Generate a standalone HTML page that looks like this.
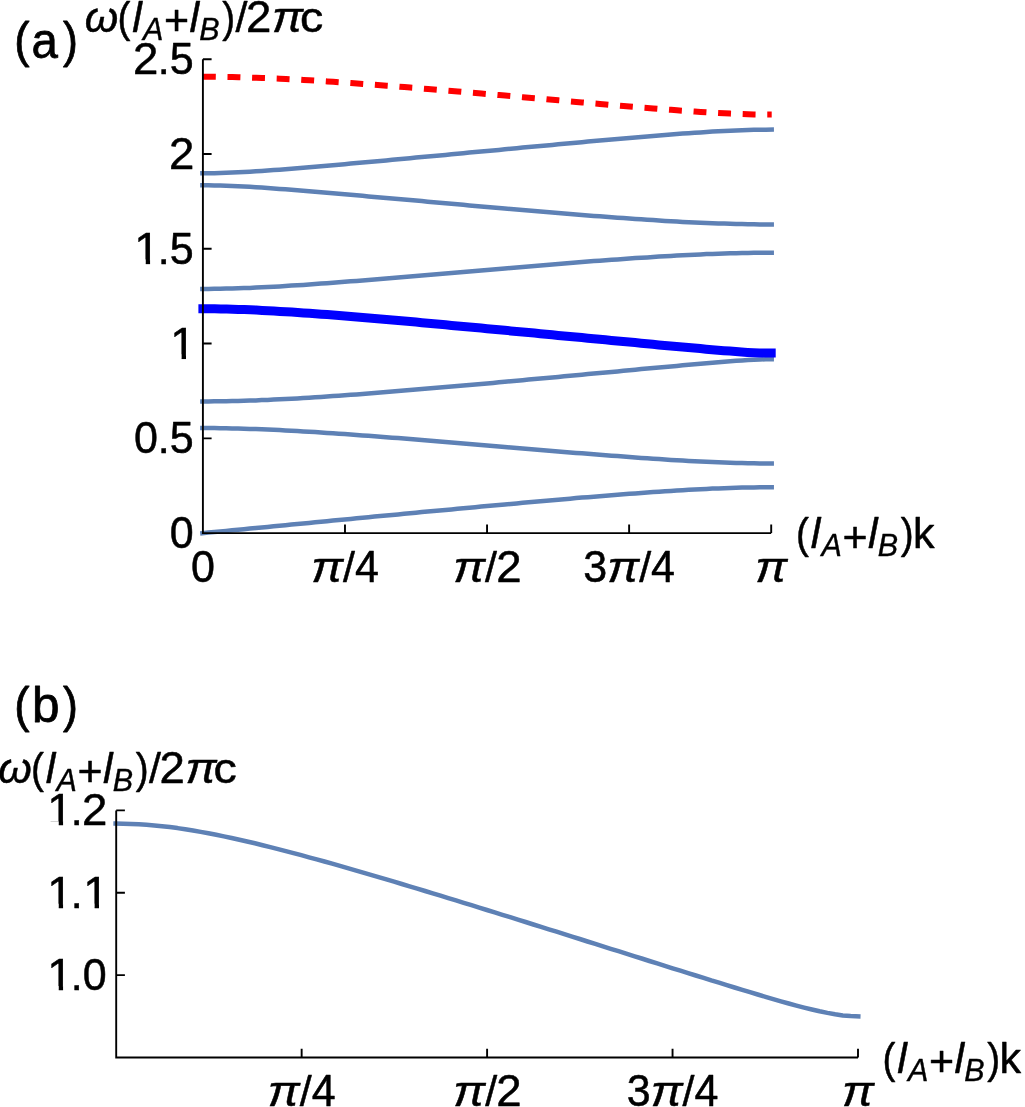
<!DOCTYPE html>
<html lang="en"><head><meta charset="utf-8"><title>Band structure</title>
<style>
html,body{margin:0;padding:0;background:#fff;}
body{width:1025px;height:1107px;overflow:hidden;}
svg{display:block;}
text{font-family:"Liberation Sans",sans-serif;font-size:43px;fill:#000;stroke:#000;stroke-width:0.5px;stroke-linejoin:round;}
.p{font-size:51px;stroke-width:0.8px;}
.i{font-style:italic;}
.s{font-size:30.5px;stroke-width:0.4px;}
.ax{stroke:#000;stroke-width:1.9;fill:none;}
.c{fill:none;stroke:#5e81b5;stroke-width:4.5;stroke-linecap:square;stroke-linejoin:round;}
</style></head><body>
<svg width="1025" height="1107" viewBox="0 0 1025 1107">
<defs><clipPath id="c1"><path d="M-2,-40H14.8V1H10.7V-4H-2Z"/></clipPath></defs>
<rect width="1025" height="1107" fill="#fff"/>
<g id="plot-a">
<polyline class="c" points="202.4,533.2 208.3,532.6 214.3,532.1 220.2,531.5 226.1,530.9 232.1,530.3 238.0,529.8 243.9,529.2 249.8,528.6 255.8,528.0 261.7,527.5 267.6,526.9 273.6,526.3 279.5,525.8 285.4,525.2 291.4,524.6 297.3,524.0 303.2,523.5 309.1,522.9 315.1,522.3 321.0,521.8 326.9,521.2 332.9,520.6 338.8,520.0 344.7,519.5 350.7,518.9 356.6,518.3 362.5,517.8 368.4,517.2 374.4,516.6 380.3,516.1 386.2,515.5 392.2,514.9 398.1,514.4 404.0,513.8 410.0,513.3 415.9,512.7 421.8,512.1 427.7,511.6 433.7,511.0 439.6,510.5 445.5,509.9 451.5,509.4 457.4,508.8 463.3,508.3 469.3,507.7 475.2,507.2 481.1,506.6 487.1,506.1 493.0,505.5 498.9,505.0 504.8,504.4 510.8,503.9 516.7,503.4 522.6,502.8 528.6,502.3 534.5,501.8 540.4,501.2 546.4,500.7 552.3,500.2 558.2,499.7 564.1,499.2 570.1,498.7 576.0,498.1 581.9,497.6 587.9,497.2 593.8,496.7 599.7,496.2 605.7,495.7 611.6,495.2 617.5,494.7 623.4,494.3 629.4,493.8 635.3,493.4 641.2,492.9 647.2,492.5 653.1,492.1 659.0,491.7 665.0,491.3 670.9,490.9 676.8,490.5 682.7,490.2 688.7,489.8 694.6,489.5 700.5,489.2 706.5,488.9 712.4,488.6 718.3,488.4 724.3,488.2 730.2,487.9 736.1,487.8 742.0,487.6 748.0,487.5 753.9,487.4 759.8,487.3 765.8,487.3 771.7,487.3"/>
<polyline class="c" points="202.4,428.1 208.3,428.1 214.3,428.1 220.2,428.2 226.1,428.3 232.1,428.4 238.0,428.6 243.9,428.7 249.8,428.9 255.8,429.1 261.7,429.3 267.6,429.6 273.6,429.8 279.5,430.1 285.4,430.4 291.4,430.7 297.3,431.0 303.2,431.4 309.1,431.7 315.1,432.1 321.0,432.5 326.9,432.9 332.9,433.3 338.8,433.7 344.7,434.1 350.7,434.5 356.6,434.9 362.5,435.4 368.4,435.8 374.4,436.3 380.3,436.7 386.2,437.2 392.2,437.7 398.1,438.1 404.0,438.6 410.0,439.1 415.9,439.5 421.8,440.0 427.7,440.5 433.7,441.0 439.6,441.5 445.5,442.0 451.5,442.5 457.4,443.0 463.3,443.5 469.3,444.0 475.2,444.5 481.1,445.0 487.1,445.5 493.0,446.0 498.9,446.5 504.8,447.0 510.8,447.5 516.7,448.0 522.6,448.5 528.6,448.9 534.5,449.4 540.4,449.9 546.4,450.4 552.3,450.9 558.2,451.4 564.1,451.9 570.1,452.4 576.0,452.9 581.9,453.3 587.9,453.8 593.8,454.3 599.7,454.8 605.7,455.2 611.6,455.7 617.5,456.1 623.4,456.6 629.4,457.0 635.3,457.4 641.2,457.9 647.2,458.3 653.1,458.7 659.0,459.1 665.0,459.5 670.9,459.9 676.8,460.2 682.7,460.6 688.7,460.9 694.6,461.2 700.5,461.5 706.5,461.8 712.4,462.1 718.3,462.3 724.3,462.5 730.2,462.7 736.1,462.9 742.0,463.1 748.0,463.2 753.9,463.3 759.8,463.4 765.8,463.4 771.7,463.4"/>
<polyline class="c" points="202.4,401.4 208.3,401.4 214.3,401.3 220.2,401.3 226.1,401.2 232.1,401.1 238.0,400.9 243.9,400.8 249.8,400.6 255.8,400.4 261.7,400.1 267.6,399.9 273.6,399.6 279.5,399.3 285.4,399.0 291.4,398.7 297.3,398.4 303.2,398.0 309.1,397.7 315.1,397.3 321.0,396.9 326.9,396.5 332.9,396.1 338.8,395.7 344.7,395.3 350.7,394.8 356.6,394.4 362.5,393.9 368.4,393.5 374.4,393.0 380.3,392.6 386.2,392.1 392.2,391.6 398.1,391.1 404.0,390.6 410.0,390.1 415.9,389.6 421.8,389.1 427.7,388.6 433.7,388.1 439.6,387.6 445.5,387.1 451.5,386.6 457.4,386.0 463.3,385.5 469.3,385.0 475.2,384.5 481.1,383.9 487.1,383.4 493.0,382.9 498.9,382.3 504.8,381.8 510.8,381.2 516.7,380.7 522.6,380.2 528.6,379.6 534.5,379.1 540.4,378.5 546.4,378.0 552.3,377.4 558.2,376.9 564.1,376.3 570.1,375.8 576.0,375.2 581.9,374.7 587.9,374.1 593.8,373.6 599.7,373.0 605.7,372.5 611.6,371.9 617.5,371.4 623.4,370.8 629.4,370.2 635.3,369.7 641.2,369.1 647.2,368.6 653.1,368.0 659.0,367.5 665.0,367.0 670.9,366.4 676.8,365.9 682.7,365.3 688.7,364.8 694.6,364.3 700.5,363.7 706.5,363.2 712.4,362.7 718.3,362.2 724.3,361.7 730.2,361.3 736.1,360.8 742.0,360.4 748.0,360.0 753.9,359.7 759.8,359.5 765.8,359.3 771.7,359.3"/>
<polyline class="c" points="202.4,288.9 208.3,288.9 214.3,288.8 220.2,288.7 226.1,288.6 232.1,288.5 238.0,288.3 243.9,288.1 249.8,287.9 255.8,287.6 261.7,287.3 267.6,287.0 273.6,286.7 279.5,286.4 285.4,286.0 291.4,285.6 297.3,285.3 303.2,284.9 309.1,284.4 315.1,284.0 321.0,283.6 326.9,283.2 332.9,282.7 338.8,282.3 344.7,281.8 350.7,281.3 356.6,280.9 362.5,280.4 368.4,279.9 374.4,279.4 380.3,278.9 386.2,278.4 392.2,278.0 398.1,277.5 404.0,277.0 410.0,276.5 415.9,276.0 421.8,275.5 427.7,275.0 433.7,274.4 439.6,273.9 445.5,273.4 451.5,272.9 457.4,272.4 463.3,271.9 469.3,271.4 475.2,270.9 481.1,270.4 487.1,269.9 493.0,269.4 498.9,268.9 504.8,268.4 510.8,267.9 516.7,267.4 522.6,266.9 528.6,266.4 534.5,265.9 540.4,265.4 546.4,264.9 552.3,264.4 558.2,264.0 564.1,263.5 570.1,263.0 576.0,262.5 581.9,262.1 587.9,261.6 593.8,261.1 599.7,260.7 605.7,260.3 611.6,259.8 617.5,259.4 623.4,259.0 629.4,258.5 635.3,258.1 641.2,257.7 647.2,257.4 653.1,257.0 659.0,256.6 665.0,256.2 670.9,255.9 676.8,255.6 682.7,255.3 688.7,255.0 694.6,254.7 700.5,254.4 706.5,254.1 712.4,253.9 718.3,253.7 724.3,253.5 730.2,253.3 736.1,253.2 742.0,253.0 748.0,252.9 753.9,252.8 759.8,252.8 765.8,252.7 771.7,252.7"/>
<polyline class="c" points="202.4,185.3 208.3,185.3 214.3,185.4 220.2,185.5 226.1,185.7 232.1,185.9 238.0,186.2 243.9,186.5 249.8,186.8 255.8,187.2 261.7,187.6 267.6,188.0 273.6,188.4 279.5,188.9 285.4,189.3 291.4,189.8 297.3,190.2 303.2,190.7 309.1,191.2 315.1,191.7 321.0,192.2 326.9,192.7 332.9,193.2 338.8,193.7 344.7,194.3 350.7,194.8 356.6,195.3 362.5,195.8 368.4,196.4 374.4,196.9 380.3,197.4 386.2,197.9 392.2,198.5 398.1,199.0 404.0,199.5 410.0,200.1 415.9,200.6 421.8,201.1 427.7,201.7 433.7,202.2 439.6,202.7 445.5,203.3 451.5,203.8 457.4,204.3 463.3,204.8 469.3,205.4 475.2,205.9 481.1,206.4 487.1,206.9 493.0,207.5 498.9,208.0 504.8,208.5 510.8,209.0 516.7,209.5 522.6,210.0 528.6,210.5 534.5,211.0 540.4,211.5 546.4,212.0 552.3,212.5 558.2,213.0 564.1,213.5 570.1,214.0 576.0,214.5 581.9,215.0 587.9,215.4 593.8,215.9 599.7,216.3 605.7,216.8 611.6,217.2 617.5,217.7 623.4,218.1 629.4,218.5 635.3,218.9 641.2,219.3 647.2,219.7 653.1,220.1 659.0,220.5 665.0,220.9 670.9,221.2 676.8,221.5 682.7,221.9 688.7,222.2 694.6,222.5 700.5,222.7 706.5,223.0 712.4,223.2 718.3,223.4 724.3,223.6 730.2,223.8 736.1,224.0 742.0,224.1 748.0,224.2 753.9,224.3 759.8,224.4 765.8,224.4 771.7,224.4"/>
<polyline class="c" points="202.4,173.3 208.3,173.2 214.3,173.2 220.2,173.0 226.1,172.8 232.1,172.6 238.0,172.3 243.9,172.0 249.8,171.7 255.8,171.3 261.7,170.9 267.6,170.5 273.6,170.1 279.5,169.7 285.4,169.2 291.4,168.7 297.3,168.2 303.2,167.8 309.1,167.3 315.1,166.8 321.0,166.2 326.9,165.7 332.9,165.2 338.8,164.7 344.7,164.2 350.7,163.6 356.6,163.1 362.5,162.5 368.4,162.0 374.4,161.5 380.3,160.9 386.2,160.4 392.2,159.8 398.1,159.3 404.0,158.7 410.0,158.2 415.9,157.6 421.8,157.1 427.7,156.5 433.7,156.0 439.6,155.4 445.5,154.9 451.5,154.3 457.4,153.7 463.3,153.2 469.3,152.6 475.2,152.1 481.1,151.5 487.1,151.0 493.0,150.4 498.9,149.9 504.8,149.3 510.8,148.7 516.7,148.2 522.6,147.6 528.6,147.1 534.5,146.5 540.4,146.0 546.4,145.4 552.3,144.9 558.2,144.3 564.1,143.8 570.1,143.3 576.0,142.7 581.9,142.2 587.9,141.6 593.8,141.1 599.7,140.6 605.7,140.0 611.6,139.5 617.5,139.0 623.4,138.5 629.4,138.0 635.3,137.5 641.2,137.0 647.2,136.5 653.1,136.0 659.0,135.5 665.0,135.0 670.9,134.5 676.8,134.1 682.7,133.6 688.7,133.2 694.6,132.8 700.5,132.4 706.5,132.0 712.4,131.6 718.3,131.3 724.3,131.0 730.2,130.7 736.1,130.4 742.0,130.2 748.0,130.0 753.9,129.8 759.8,129.7 765.8,129.7 771.7,129.6"/>
<polyline points="202.9,76.8 208.8,76.8 214.8,76.8 220.7,76.9 226.6,77.0 232.5,77.1 238.5,77.2 244.4,77.4 250.3,77.6 256.2,77.8 262.1,78.0 268.1,78.2 274.0,78.5 279.9,78.7 285.9,79.0 291.8,79.3 297.7,79.6 303.6,80.0 309.6,80.3 315.5,80.7 321.4,81.0 327.3,81.4 333.2,81.8 339.2,82.2 345.1,82.6 351.0,83.0 357.0,83.5 362.9,83.9 368.8,84.3 374.7,84.8 380.6,85.2 386.6,85.7 392.5,86.1 398.4,86.6 404.4,87.1 410.3,87.6 416.2,88.0 422.1,88.5 428.1,89.0 434.0,89.5 439.9,90.0 445.8,90.5 451.8,91.0 457.7,91.5 463.6,92.0 469.5,92.5 475.5,93.0 481.4,93.6 487.3,94.1 493.2,94.6 499.2,95.1 505.1,95.6 511.0,96.1 516.9,96.7 522.9,97.2 528.8,97.7 534.7,98.2 540.6,98.7 546.6,99.3 552.5,99.8 558.4,100.3 564.3,100.8 570.2,101.4 576.2,101.9 582.1,102.4 588.0,102.9 593.9,103.4 599.9,103.9 605.8,104.4 611.7,105.0 617.6,105.5 623.6,106.0 629.5,106.5 635.4,107.0 641.4,107.5 647.3,107.9 653.2,108.4 659.1,108.9 665.0,109.4 671.0,109.8 676.9,110.3 682.8,110.7 688.8,111.1 694.7,111.5 700.6,111.9 706.5,112.3 712.5,112.7 718.4,113.0 724.3,113.3 730.2,113.6 736.1,113.9 742.1,114.1 748.0,114.3 753.9,114.4 759.9,114.5 765.8,114.6 771.7,114.6" fill="none" stroke="#f00" stroke-width="6" stroke-dasharray="12.9 11.7"/>
<polyline points="202.9,308.8 208.8,308.8 214.7,308.8 220.7,308.9 226.6,309.0 232.5,309.2 238.4,309.4 244.3,309.6 250.3,309.8 256.2,310.1 262.1,310.4 268.0,310.7 273.9,311.0 279.9,311.4 285.8,311.7 291.7,312.1 297.6,312.5 303.5,312.9 309.5,313.3 315.4,313.7 321.3,314.2 327.2,314.6 333.1,315.1 339.1,315.6 345.0,316.0 350.9,316.5 356.8,317.0 362.7,317.5 368.7,318.0 374.6,318.5 380.5,319.0 386.4,319.5 392.3,320.0 398.3,320.6 404.2,321.1 410.1,321.6 416.0,322.1 421.9,322.7 427.9,323.2 433.8,323.8 439.7,324.3 445.6,324.8 451.5,325.4 457.5,325.9 463.4,326.5 469.3,327.0 475.2,327.6 481.1,328.1 487.1,328.7 493.0,329.2 498.9,329.8 504.8,330.3 510.7,330.9 516.6,331.4 522.6,332.0 528.5,332.6 534.4,333.1 540.3,333.7 546.2,334.2 552.2,334.8 558.1,335.4 564.0,335.9 569.9,336.5 575.8,337.0 581.8,337.6 587.7,338.2 593.6,338.7 599.5,339.3 605.4,339.8 611.4,340.4 617.3,341.0 623.2,341.5 629.1,342.1 635.0,342.6 641.0,343.2 646.9,343.8 652.8,344.3 658.7,344.9 664.6,345.4 670.6,346.0 676.5,346.5 682.4,347.0 688.3,347.6 694.2,348.1 700.2,348.6 706.1,349.2 712.0,349.7 717.9,350.2 723.8,350.7 729.8,351.1 735.7,351.6 741.6,352.0 747.5,352.4 753.4,352.7 759.4,352.9 765.3,353.1 771.2,353.1" fill="none" stroke="#00f" stroke-width="9" stroke-linecap="square" stroke-linejoin="round"/>
<path class="ax" d="M202.9,59.23V533.1H771.2M202.9,438.33h8.7M202.9,343.55h8.7M202.9,248.77h8.7M202.9,154.00h8.7M202.9,59.23h8.7M344.98,533.1v-8.7M487.05,533.1v-8.7M629.12,533.1v-8.7M771.20,533.1v-8.7"/>
<g><text transform="translate(169.79 548.10) scale(1.0001 1.04)">0</text></g>
<g><text transform="translate(133.92 453.33) scale(1.0001 1.04)">0</text><text x="157.84" y="453.33">.</text><text transform="translate(169.79 453.33) scale(1.0001 1.04)">5</text></g>
<g><text transform="translate(170.19 358.55) scale(1.07 1.04)" clip-path="url(#c1)">1</text></g>
<g><text transform="translate(134.32 263.77) scale(1.07 1.04)" clip-path="url(#c1)">1</text><text x="157.84" y="263.77">.</text><text transform="translate(169.79 263.77) scale(1.0001 1.04)">5</text></g>
<g><text transform="translate(168.89 169.00) scale(1.06011 1.04)">2</text></g>
<g><text transform="translate(133.02 74.23) scale(1.06011 1.04)">2</text><text x="157.84" y="74.23">.</text><text transform="translate(169.79 74.23) scale(1.0001 1.04)">5</text></g>
<g><text transform="translate(190.94 581.70) scale(1.0001 1.04)">0</text></g>
<g><text class="i" transform="translate(311.14 581.70) scale(1.1124 1)" stroke-width="0.6">π</text><text x="343.04" y="581.70">/</text><text transform="translate(354.99 581.70) scale(1.0001 1.04)">4</text></g>
<g><text class="i" transform="translate(453.22 581.70) scale(1.1124 1)" stroke-width="0.6">π</text><text x="485.12" y="581.70">/</text><text transform="translate(496.17 581.70) scale(1.06011 1.04)">2</text></g>
<g><text transform="translate(583.24 581.70) scale(1.0001 1.04)">3</text><text class="i" transform="translate(607.25 581.70) scale(1.1124 1)" stroke-width="0.6">π</text><text x="639.15" y="581.70">/</text><text transform="translate(651.10 581.70) scale(1.0001 1.04)">4</text></g>
<g><text class="i" transform="translate(755.30 581.70) scale(1.1124 1)" stroke-width="0.6">π</text></g>
<g><text class="i" x="84.79" y="31.60">ω</text><text transform="translate(117.40 31.60) scale(0.9 1)">(</text><text class="i" x="132.21" y="31.60">l</text><text class="i s" transform="translate(143.00 39.50) scale(1.0001 1.04)">A</text><text x="164.00" y="34.70">+</text><text class="i" x="189.61" y="31.60">l</text><text class="i s" transform="translate(199.16 39.50) scale(1.0001 1.04)">B</text><text transform="translate(222.17 31.60) scale(0.9 1)">)</text><text x="235.50" y="31.60">/</text><text transform="translate(246.01 31.60) scale(1.06011 1.04)">2</text><text class="i" transform="translate(272.04 31.60) scale(1.08 1)" stroke-width="0.6">π</text><text transform="translate(299.93 31.60) scale(1.08 1)">c</text></g>
<g><text transform="translate(795.90 548.40) scale(0.9 1)">(</text><text class="i" x="810.71" y="548.40">l</text><text class="i s" transform="translate(821.50 556.30) scale(1.0001 1.04)">A</text><text x="842.50" y="551.50">+</text><text class="i" x="868.11" y="548.40">l</text><text class="i s" transform="translate(877.66 556.30) scale(1.0001 1.04)">B</text><text transform="translate(900.67 548.40) scale(0.9 1)">)</text><text x="913.10" y="548.40">k</text></g>
<g><text class="p" transform="translate(14.35 57.10) scale(0.9 0.965)">(</text><text class="p" transform="translate(31.39 57.50) scale(0.93 0.98)">a</text><text class="p" transform="translate(63.04 57.10) scale(0.88 0.965)">)</text></g>
</g>
<g id="plot-b">
<polyline class="c" points="115.6,823.6 123.3,823.7 131.1,823.9 138.8,824.3 146.5,824.8 154.3,825.4 162.0,826.2 169.8,827.1 177.5,828.1 185.2,829.3 193.0,830.5 200.7,831.9 208.4,833.3 216.2,834.8 223.9,836.4 231.6,838.0 239.4,839.7 247.1,841.5 254.9,843.3 262.6,845.2 270.3,847.1 278.1,849.1 285.8,851.1 293.5,853.1 301.3,855.2 309.0,857.3 316.7,859.4 324.5,861.5 332.2,863.7 340.0,865.9 347.7,868.1 355.4,870.3 363.2,872.6 370.9,874.8 378.6,877.1 386.4,879.4 394.1,881.7 401.8,884.0 409.6,886.3 417.3,888.6 425.1,891.0 432.8,893.3 440.5,895.7 448.3,898.1 456.0,900.4 463.7,902.8 471.5,905.2 479.2,907.6 486.9,910.0 494.7,912.4 502.4,914.8 510.2,917.2 517.9,919.6 525.6,922.0 533.4,924.5 541.1,926.9 548.8,929.3 556.6,931.7 564.3,934.2 572.1,936.6 579.8,939.0 587.5,941.5 595.3,943.9 603.0,946.4 610.7,948.8 618.5,951.2 626.2,953.7 633.9,956.1 641.7,958.5 649.4,961.0 657.2,963.4 664.9,965.8 672.6,968.3 680.4,970.7 688.1,973.1 695.8,975.5 703.6,977.9 711.3,980.4 719.0,982.7 726.8,985.1 734.5,987.5 742.3,989.9 750.0,992.2 757.7,994.5 765.5,996.8 773.2,999.1 780.9,1001.3 788.7,1003.5 796.4,1005.6 804.1,1007.6 811.9,1009.5 819.6,1011.3 827.4,1012.9 835.1,1014.3 842.8,1015.4 850.6,1016.0 858.3,1016.3"/>
<path class="ax" d="M116.2,810.39V1057.50H858.0M116.2,975.13h8.7M116.2,892.76h8.7M116.2,810.39h8.7M301.65,1057.50v-8.7M487.10,1057.50v-8.7M672.55,1057.50v-8.7M858.00,1057.50v-8.7"/>
<g><text transform="translate(47.32 990.23) scale(1.07 1.04)" clip-path="url(#c1)">1</text><text x="70.84" y="990.23">.</text><text transform="translate(82.79 990.23) scale(1.0001 1.04)">0</text></g>
<g><text transform="translate(47.32 907.86) scale(1.07 1.04)" clip-path="url(#c1)">1</text><text x="70.84" y="907.86">.</text><text transform="translate(83.19 907.86) scale(1.07 1.04)" clip-path="url(#c1)">1</text></g>
<g><text transform="translate(47.32 825.49) scale(1.07 1.04)" clip-path="url(#c1)">1</text><text x="70.84" y="825.49">.</text><text transform="translate(81.89 825.49) scale(1.06011 1.04)">2</text></g>
<g><text class="i" transform="translate(267.82 1106.10) scale(1.1124 1)" stroke-width="0.6">π</text><text x="299.72" y="1106.10">/</text><text transform="translate(311.67 1106.10) scale(1.0001 1.04)">4</text></g>
<g><text class="i" transform="translate(453.27 1106.10) scale(1.1124 1)" stroke-width="0.6">π</text><text x="485.17" y="1106.10">/</text><text transform="translate(496.22 1106.10) scale(1.06011 1.04)">2</text></g>
<g><text transform="translate(626.66 1106.10) scale(1.0001 1.04)">3</text><text class="i" transform="translate(650.68 1106.10) scale(1.1124 1)" stroke-width="0.6">π</text><text x="682.58" y="1106.10">/</text><text transform="translate(694.52 1106.10) scale(1.0001 1.04)">4</text></g>
<g><text class="i" transform="translate(842.10 1106.10) scale(1.1124 1)" stroke-width="0.6">π</text></g>
<g><text class="i" x="-1.71" y="782.70">ω</text><text transform="translate(30.90 782.70) scale(0.9 1)">(</text><text class="i" x="45.71" y="782.70">l</text><text class="i s" transform="translate(56.50 790.60) scale(1.0001 1.04)">A</text><text x="77.50" y="785.80">+</text><text class="i" x="103.11" y="782.70">l</text><text class="i s" transform="translate(112.66 790.60) scale(1.0001 1.04)">B</text><text transform="translate(135.67 782.70) scale(0.9 1)">)</text><text x="149.00" y="782.70">/</text><text transform="translate(159.51 782.70) scale(1.06011 1.04)">2</text><text class="i" transform="translate(185.54 782.70) scale(1.08 1)" stroke-width="0.6">π</text><text transform="translate(213.43 782.70) scale(1.08 1)">c</text></g>
<g><text transform="translate(882.40 1072.80) scale(0.9 1)">(</text><text class="i" x="897.21" y="1072.80">l</text><text class="i s" transform="translate(908.00 1080.70) scale(1.0001 1.04)">A</text><text x="929.00" y="1075.90">+</text><text class="i" x="954.61" y="1072.80">l</text><text class="i s" transform="translate(964.16 1080.70) scale(1.0001 1.04)">B</text><text transform="translate(987.17 1072.80) scale(0.9 1)">)</text><text x="999.60" y="1072.80">k</text></g>
<g><text class="p" transform="translate(14.35 721.60) scale(0.9 0.965)">(</text><text class="p" transform="translate(32.11 722.00) scale(0.97 0.975)">b</text><text class="p" transform="translate(63.04 721.60) scale(0.88 0.965)">)</text></g>
</g>
</svg></body></html>
